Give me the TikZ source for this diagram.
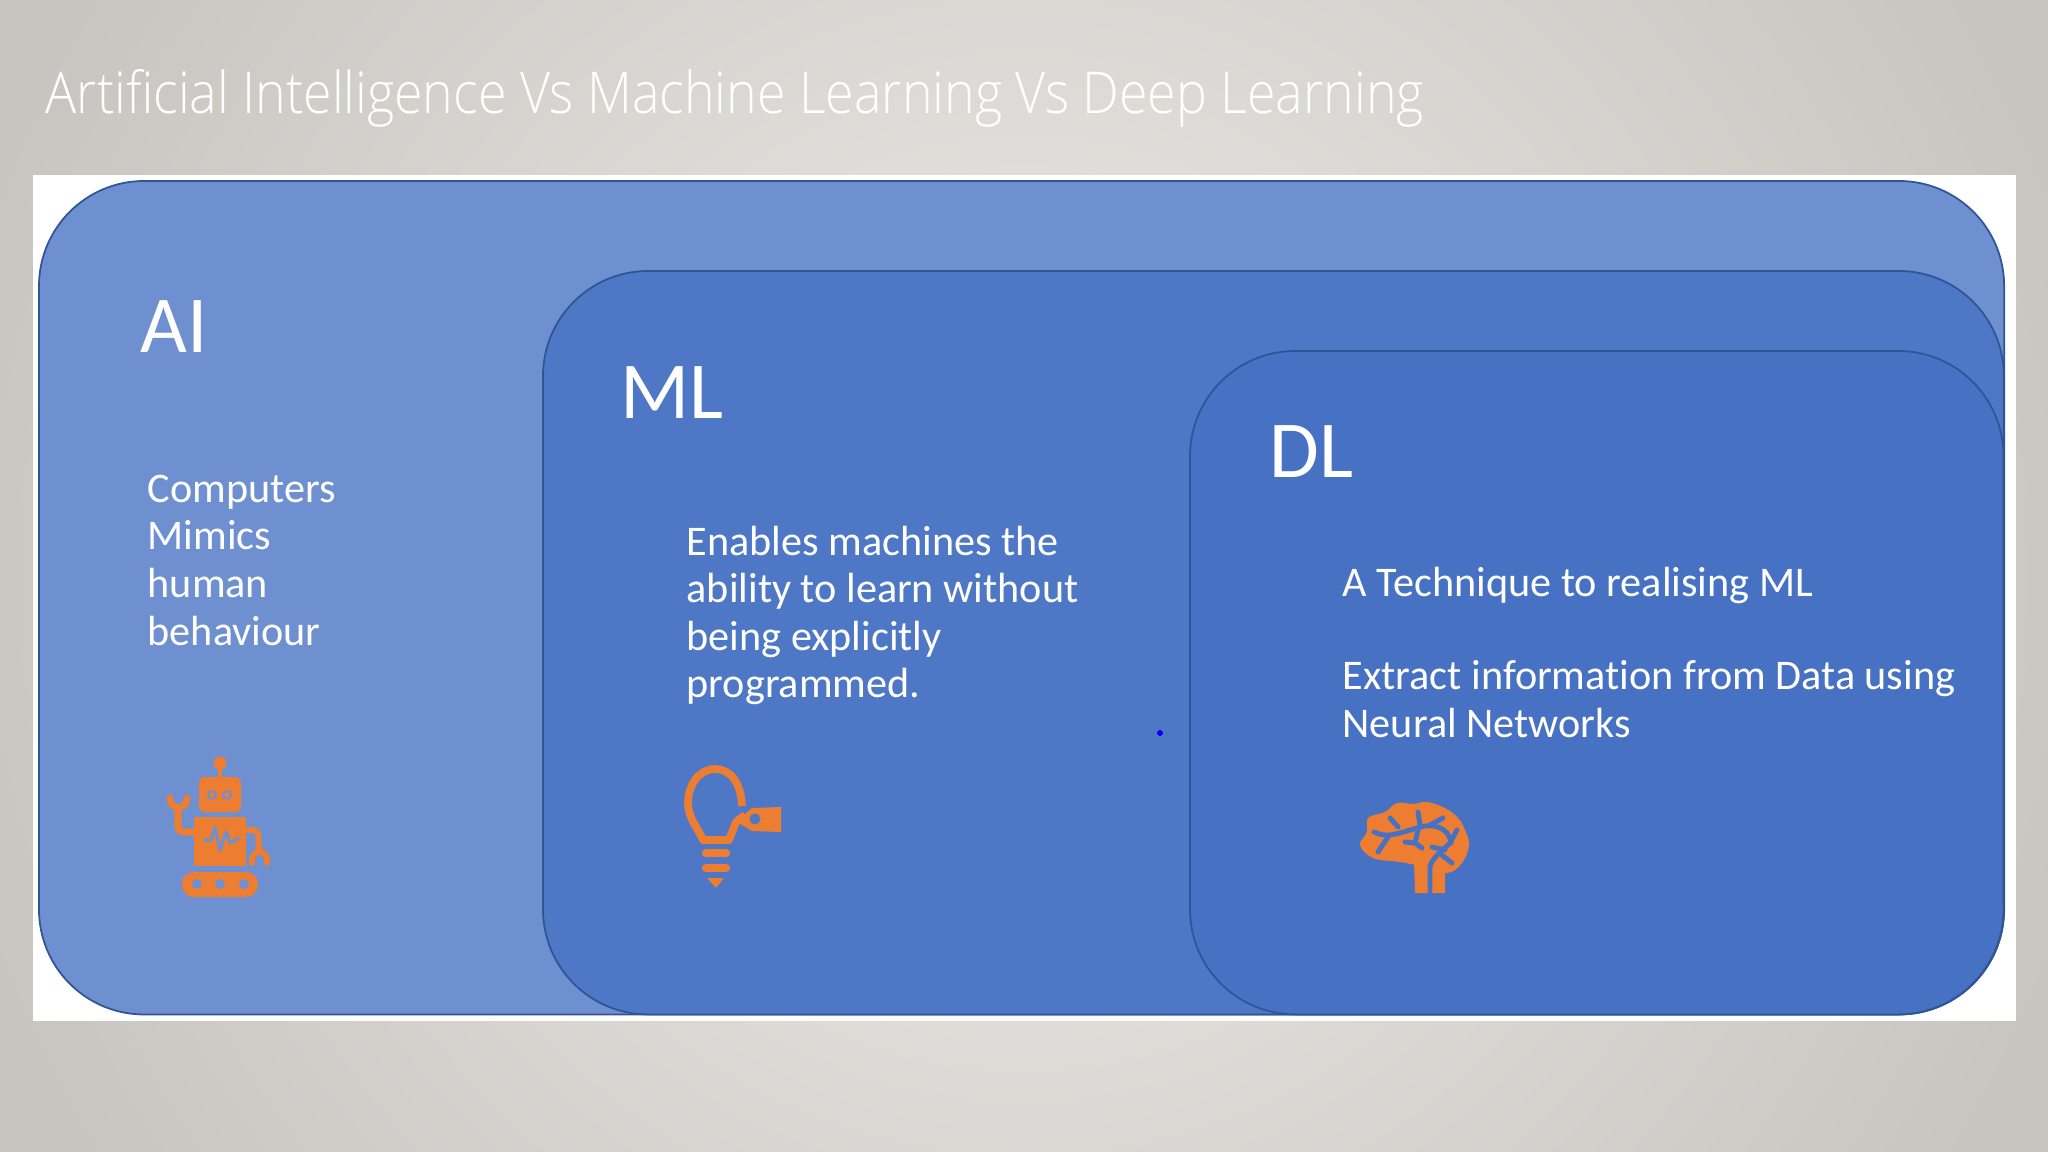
\documentclass[tikz,border=0pt]{standalone}
\usepackage{fontspec}
\setmainfont[Ligatures=CommonOff]{Carlito}
\newfontfamily\titlefont[FakeStretch=0.9]{Open Sans Light}
\definecolor{bgedge}{HTML}{C6C5C0}
\definecolor{bgmid}{HTML}{EDECE8}
\definecolor{aiblue}{HTML}{6E90D0}
\definecolor{mlblue}{HTML}{4E78C6}
\definecolor{dlblue}{HTML}{4772C4}
\definecolor{rim}{HTML}{2F5597}
\definecolor{iconorange}{HTML}{ED7D31}
\pgfdeclareradialshading{slideglow}{\pgfpoint{0bp}{0bp}}{color(0bp)=(bgmid); color(23bp)=(bgedge); color(50bp)=(bgedge)}
\tikzset{
  x=0.01cm,y=-0.01cm,
  panel/.style={draw=rim,line width=0.5pt,rounded corners=1.05cm,anchor=north west,inner sep=0pt,outer sep=0pt},
  heading/.style={text=white,anchor=base west,font=\fontsize{23}{27}\selectfont,inner sep=0pt},
  blurb/.style={text=white,anchor=north west,align=left,font=\fontsize{12}{13.55}\selectfont,inner sep=0pt},
  ink/.style={fill=iconorange,draw=none},
  limb/.style={draw=iconorange,line cap=round,line join=round,fill=none},
  vein/.style={draw=dlblue,line width=1.4pt,line cap=round,line join=round,fill=none}
}
\begin{document}
\begin{tikzpicture}
\useasboundingbox (0,0) rectangle (2048,1152);
\begin{scope}
\clip (0,0) rectangle (2048,1152);
\shade[shading=slideglow] (1024,576) circle (12cm);
\end{scope}
\node (title) [text=white,anchor=base west,inner sep=0pt,font=\titlefont\fontsize{16.4}{19}\selectfont] at (45,114) {Artificial Intelligence Vs Machine Learning Vs Deep Learning};
\node (sheet) [fill=white,anchor=north west,inner sep=0pt,minimum width=19.82cm,minimum height=8.46cm] at (32,174) {};
\node (ai) [panel,fill=aiblue,minimum width=19.64cm,minimum height=8.33cm] at (39,181) {};
\node (ml) [panel,fill=mlblue,minimum width=14.60cm,minimum height=7.43cm] at (543,271) {};
\node (dl) [panel,fill=dlblue,minimum width=8.13cm,minimum height=6.63cm] at (1190,351) {};
\node (ailabel) [heading] at (140,353) {AI};
\node (mllabel) [heading] at (620,419) {ML};
\node (dllabel) [heading] at (1269,478) {DL};
\node (aitext) [blurb] at (147,474) {Computers\\Mimics\\human\\behaviour};
\node (mltext) [blurb] at (686,525) {Enables machines the\\ability to learn without\\being explicitly\\programmed.};
\node (dltext) [blurb] at (1342,566) {A Technique to realising ML\\[13pt]Extract information from Data using\\Neural Networks};
\fill[blue] (1160,733) circle (0.03cm);
% robot
\fill[ink] (220,763) circle (0.065cm);
\fill[ink] (218,768) rectangle (222,780);
\fill[ink,rounded corners=0.06cm] (199,777) rectangle (241,812);
\foreach \eyex in {212,227}{
  \fill[aiblue] (\eyex,795) circle (0.05cm);
  \fill[ink] (\eyex,795) circle (0.027cm);
}
\fill[ink] (194,817) rectangle (246,866);
\fill[ink,rounded corners=0.12cm] (182,872) rectangle (258,897);
\foreach \wheelx in {197,220,244}{\fill[aiblue] (\wheelx,884) circle (0.05cm);}
\draw[aiblue,line width=0.9pt,line join=round] (203,840) -- (211,840) -- (215,827) -- (220,850) -- (226,832) -- (230,843) -- (239,838);
\draw[limb,line width=2pt,rounded corners=0.05cm] (194,832) -- (178,832) -- (178,808);
\draw[limb,line width=1.9pt] (170,798) .. controls (170,811) and (187,811) .. (187,798);
\draw[limb,line width=1.7pt,rounded corners=0.05cm] (246,830) -- (258,830) -- (259,852);
\draw[limb,line width=1.7pt] (252,863) .. controls (250,848) and (269,848) .. (267,863);
% bulb
\draw[limb,line width=2.2pt,line cap=butt] (742,806) .. controls (741,782) and (730,769) .. (715,769) .. controls (699,769) and (688,785) .. (688,803) .. controls (688,818) and (698,828) .. (703,840) -- (729,840) -- (736,822) -- (745,815);
\fill[ink] (745,814) -- (752,808) -- (781,807) -- (781,832) -- (752,831) -- (737,822) -- cycle;
\fill[mlblue] (755,819) circle (0.055cm);
\draw[limb,line width=2.4pt] (706,853) -- (726,853);
\draw[limb,line width=2.4pt] (706,868) -- (726,868);
\fill[ink,rounded corners=0.01cm] (707,878) -- (724,878) -- (716,888) -- cycle;
% brain
\fill[ink] plot[smooth cycle,tension=0.6] coordinates {(1373,858) (1360,845) (1367,832) (1368,818) (1385,812) (1397,803) (1413,804) (1427,802) (1445,808) (1458,818) (1465,830) (1469,845) (1462,863) (1447,873) (1420,866) (1400,862)};
\fill[ink] (1414,860) -- (1445,860) -- (1445,893) -- (1415,893) -- cycle;
\draw[vein] (1430,893) -- (1430,867) .. controls (1431,860) and (1440,852) .. (1450,843) -- (1457,830);
\draw[vein] (1374,832) .. controls (1390,840) and (1405,830) .. (1425,826) .. controls (1440,824) and (1450,832) .. (1451,843);
\draw[vein] (1432,847) -- (1445,850);
\draw[vein] (1442,855) -- (1452,863);
\draw[vein] (1390,818) -- (1398,827);
\draw[vein] (1418,812) -- (1420,825);
\draw[vein] (1443,818) -- (1430,825);
\draw[vein] (1388,837) -- (1378,852);
\draw[vein] (1405,842) -- (1415,843) -- (1422,848);
\draw[vein] (1418,830) -- (1415,843);
\end{tikzpicture}
\end{document}
